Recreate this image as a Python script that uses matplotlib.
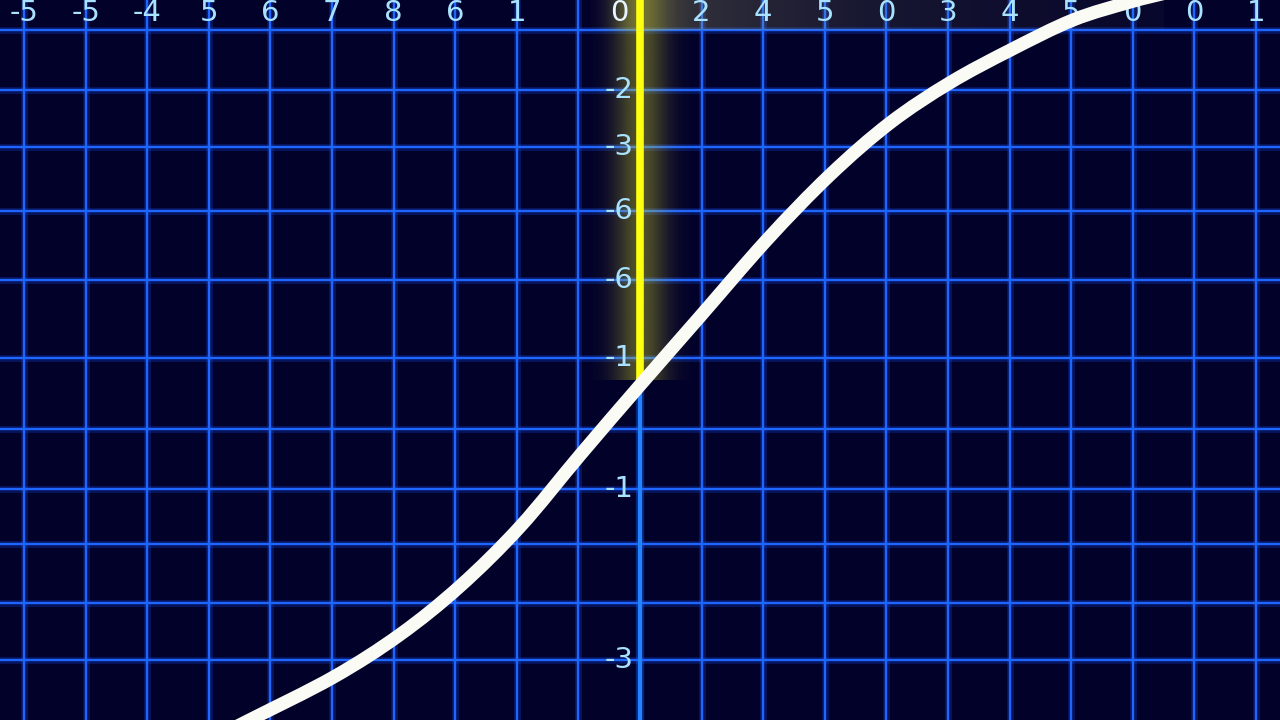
import numpy as np
import matplotlib.pyplot as plt
from matplotlib.path import Path
from matplotlib.patches import PathPatch

# grid positions (data units, one unit per grid cell)
x_grid = list(range(-10, 11))
y_grid = [5.36, 4.38, 3.46, 2.42, 1.30, 0.03, -1.12, -2.09, -2.99, -3.94, -4.87]

# tick labels as they appear in the picture
top_pos = [-10, -9, -8, -7, -6, -5, -4, -3, -2, 1, 2, 3, 4, 5, 6, 7, 8, 9, 10]
top_labels = ['-5', '-5', '-4', '5', '6', '7', '8', '6', '1',
              '2', '4', '5', '0', '3', '4', '5', '0', '0', '1']
y_label_pos = [4.38, 3.46, 2.42, 1.30, 0.03, -2.09, -4.87]
y_labels = ['-2', '-3', '-6', '-6', '-1', '-1', '-3']

# the white curve
curve_x = [-7.14, -6.33, -4.98, -3.90, -2.92, -1.95, -0.97, 0.0, 0.97, 2.06,
           3.08, 4.06, 5.03, 6.01, 7.03, 7.95, 8.5]
curve_y = [-6.25, -5.84, -5.15, -4.46, -3.67, -2.71, -1.54, -0.41, 0.70, 1.95,
           3.00, 3.85, 4.50, 5.03, 5.52, 5.81, 5.95]

yellow_bottom = -0.32

BG = '#02012a'
GRID = '#1f66ff'
LABEL = '#a9e2ff'


# smooth path through the points (catmull-rom handles as bezier controls)
def smooth_path(xs, ys):
    p = np.column_stack([xs, ys])
    verts = [p[0]]
    codes = [Path.MOVETO]
    for i in range(len(p) - 1):
        p0 = p[max(i - 1, 0)]
        p1 = p[i]
        p2 = p[i + 1]
        p3 = p[min(i + 2, len(p) - 1)]
        verts += [p1 + (p2 - p0) / 6, p2 - (p3 - p1) / 6, p2]
        codes += [Path.CURVE4] * 3
    return Path(verts, codes)


fig = plt.figure(figsize=(12.8, 7.2), dpi=100)
fig.patch.set_facecolor(BG)
ax = fig.add_axes([0, 0, 1, 1])
ax.set_facecolor(BG)
xmax = 640 / 61.6
ymax = 360 / 61.6
ax.set_xlim(-xmax, xmax)
ax.set_ylim(-ymax, ymax)
ax.axis('off')

# grid with a soft glow
for gx in x_grid:
    if gx == 0:
        continue
    ax.axvline(gx, color='#1040d0', lw=5, alpha=0.3, zorder=1)
    ax.axvline(gx, color=GRID, lw=1.7, zorder=2)
for gy in y_grid:
    ax.axhline(gy, color='#1040d0', lw=5, alpha=0.3, zorder=1)
    ax.axhline(gy, color=GRID, lw=1.7, zorder=2)

# blue vertical axis below the yellow part
ax.plot([0, 0], [-ymax, yellow_bottom], color='#1060ff', lw=6, alpha=0.4, zorder=3)
ax.plot([0, 0], [-ymax, yellow_bottom], color='#2484ff', lw=3, zorder=3)

# yellow glow around the vertical segment
xs = np.linspace(-0.8, 0.8, 200)
prof = np.exp(-(xs / 0.42) ** 2) * 0.4
glow = np.zeros((1, len(xs), 4))
glow[0, :, 0] = 0.8
glow[0, :, 1] = 0.8
glow[0, :, 2] = 0.15
glow[0, :, 3] = prof
ax.imshow(glow, extent=[-0.8, 0.8, yellow_bottom, ymax], aspect='auto',
          interpolation='bilinear', zorder=2.5)

# glow band along the top row
xb = np.linspace(-0.8, 8.5, 300)
band_a = np.where(xb < 0, np.exp(-(xb / 0.45) ** 2), np.exp(-xb / 4.0)) * 0.33
band = np.zeros((1, len(xb), 4))
band[0, :, 0] = 0.7
band[0, :, 1] = 0.7
band[0, :, 2] = 0.4
band[0, :, 3] = band_a
ax.imshow(band, extent=[-0.8, 8.5, 5.36, ymax], aspect='auto',
          interpolation='bilinear', zorder=2.4)

ax.plot([0, 0], [yellow_bottom, ymax], color='#ffff10', lw=5.5, zorder=4,
        solid_capstyle='butt')

# labels
lab = dict(fontsize=21, family='DejaVu Sans', zorder=5)
for p, t in zip(top_pos, top_labels):
    ax.text(p, 5.64, t, color=LABEL, ha='center', va='center', **lab)
ax.text(-0.34, 5.64, '0', color='#e8f4ff', ha='center', va='center', **lab)
for p, t in zip(y_label_pos, y_labels):
    ax.text(-0.11, p, t, color=LABEL, ha='right', va='center', **lab)

# curve
ax.add_patch(PathPatch(smooth_path(curve_x, curve_y), facecolor='none',
                       edgecolor='#fbfbf5', lw=9.5, capstyle='round',
                       joinstyle='round', zorder=7))

fig.savefig('out.png', dpi=100, facecolor=BG)
